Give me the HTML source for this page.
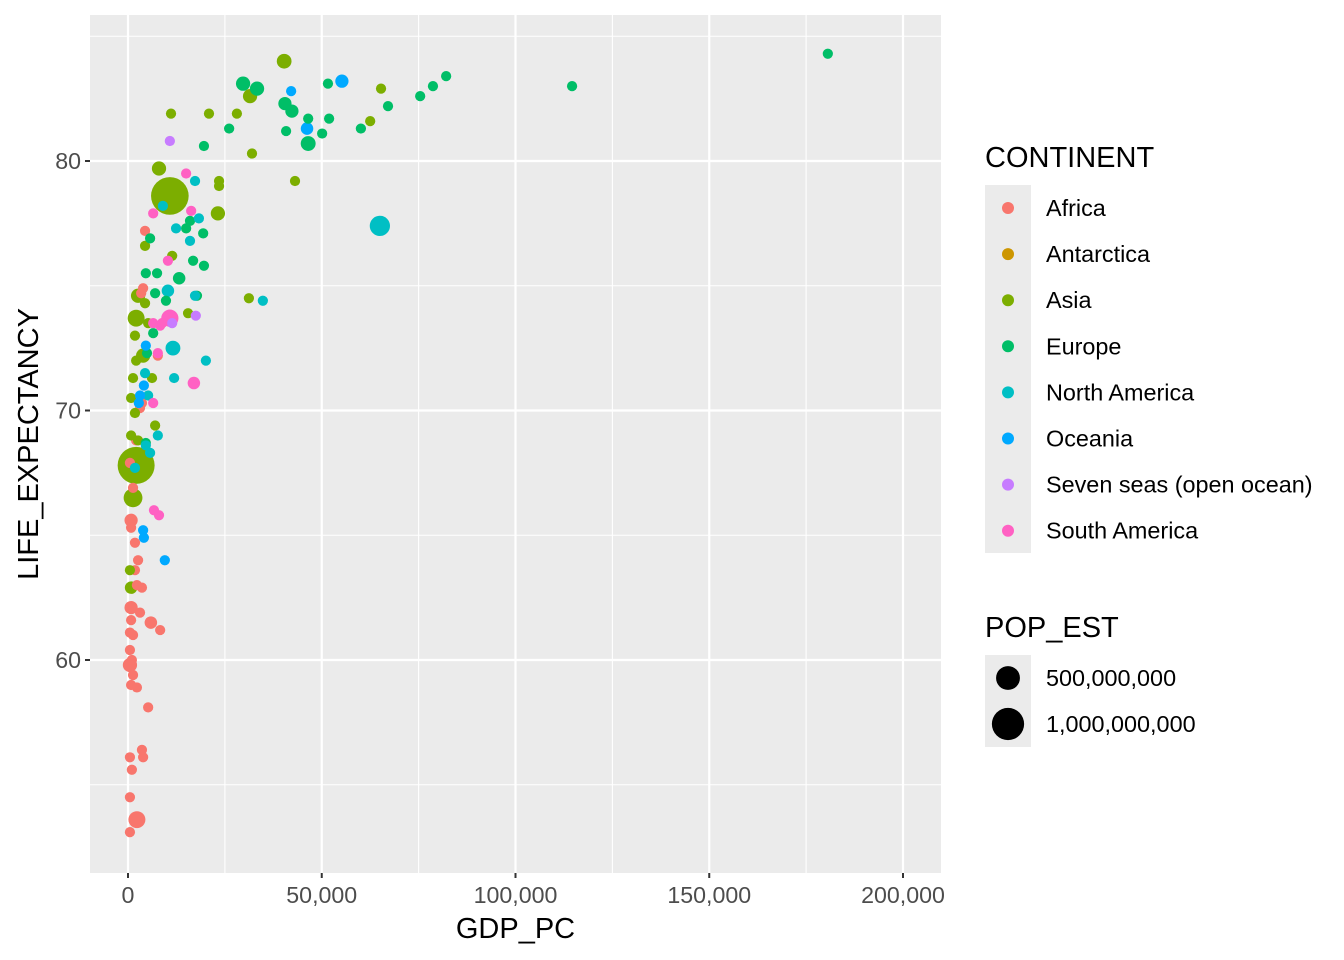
<!DOCTYPE html>
<html><head><meta charset="utf-8"><style>
body{margin:0;background:#fff;}
svg{display:block;font-family:"Liberation Sans",sans-serif;}
</style></head><body>
<svg id="chart" width="1344" height="960" xmlns="http://www.w3.org/2000/svg"></svg>
<script>
// data: gdp per capita (thousands), life expectancy, population (millions), continent index
const continents=["Africa","Antarctica","Asia","Europe","North America","Oceania","Seven seas (open ocean)","South America"];
const colors=["#F8766D","#CD9600","#7CAE00","#00BE67","#00BFC4","#00A9FF","#C77CFF","#FF61C3"];
const gdp=[0.5,2.3,0.5,1.0,0.5,3.9,3.6,5.2,2.3,0.8,1.3,0.5,1.0,0.5,1.3,0.5,8.3,5.9,0.8,3.1,0.8,3.6,2.3,1.8,2.6,1.8,0.8,0.8,1.3,0.5,2.1,3.6,3.1,7.7,3.9,3.4,4.4,
10.8,2.1,1.3,0.5,0.8,2.6,0.8,1.8,0.8,1.3,6.2,2.1,3.9,1.8,2.1,5.2,2.6,4.4,7.0,8.0,4.4,11.4,15.5,23.2,23.5,23.5,11.1,20.9,28.1,32.0,31.2,43.1,31.5,40.3,65.3,62.5,
29.7,33.3,26.1,19.6,40.5,42.3,40.8,46.5,46.5,50.1,51.9,51.6,60.1,67.1,75.4,78.7,82.1,114.6,180.6,16.0,15.0,19.4,16.8,19.6,13.2,17.8,9.8,7.5,4.6,5.7,6.5,4.9,7.0,4.6,
65.0,11.6,10.3,9.0,12.4,16.0,17.3,18.3,17.3,34.8,20.1,11.9,7.7,5.7,4.6,4.4,5.2,1.8,
55.2,46.2,42.1,9.5,3.9,4.1,4.1,3.1,2.8,4.6,
10.8,17.5,11.4,
10.8,15.0,6.5,16.3,10.3,17.0,7.7,6.5,8.0,6.7,6.5,8.3,8.8];
const life=[53.1,53.6,54.5,55.6,56.1,56.1,56.4,58.1,58.9,59.0,59.4,59.8,60.0,60.4,61.0,61.1,61.2,61.5,61.6,61.9,62.1,62.9,63.0,63.6,64.0,64.7,65.3,65.6,66.9,67.9,68.8,70.3,70.1,72.2,74.9,74.7,77.2,
78.6,67.8,66.5,63.6,62.9,68.8,69.0,69.9,70.5,71.3,71.3,72.0,72.2,73.0,73.7,73.5,74.6,74.3,69.4,79.7,76.6,76.2,73.9,77.9,79.2,79.0,81.9,81.9,81.9,80.3,74.5,79.2,82.6,84.0,82.9,81.6,
83.1,82.9,81.3,80.6,82.3,82.0,81.2,81.7,80.7,81.1,81.7,83.1,81.3,82.2,82.6,83.0,83.4,83.0,84.3,77.6,77.3,77.1,76.0,75.8,75.3,74.6,74.4,75.5,75.5,76.9,73.1,72.3,74.7,68.7,
77.4,72.5,74.8,78.2,77.3,76.8,79.2,77.7,74.6,74.4,72.0,71.3,69.0,68.3,68.6,71.5,70.6,67.7,
83.2,81.3,82.8,64.0,65.2,64.9,71.0,70.6,70.3,72.6,
80.8,73.8,73.5,
73.7,79.5,77.9,78.0,76.0,71.1,72.3,70.3,65.8,66.0,73.5,73.4,73.5];
const pop=[5,200,5,5,5,5,5,5,5,5,5,110,5,5,5,5,5,60,5,5,80,5,5,5,5,5,5,80,5,5,5,5,5,5,5,5,5,
1400,1350,270,5,60,5,5,5,5,5,5,5,110,5,200,5,110,5,5,110,5,5,5,110,5,5,5,5,5,5,5,5,110,125,5,5,
110,110,5,5,80,80,5,5,130,5,5,5,5,5,5,5,5,5,5,5,5,5,5,5,60,5,5,5,5,5,5,5,5,5,
330,128,60,5,5,5,5,5,5,5,5,5,5,5,5,5,5,5,
80,60,5,5,5,5,5,5,5,5,
5,5,5,
210,5,5,5,5,60,5,5,5,5,5,5,5];
const cont=[0,0,0,0,0,0,0,0,0,0,0,0,0,0,0,0,0,0,0,0,0,0,0,0,0,0,0,0,0,0,0,0,0,0,0,0,0,
2,2,2,2,2,2,2,2,2,2,2,2,2,2,2,2,2,2,2,2,2,2,2,2,2,2,2,2,2,2,2,2,2,2,2,2,
3,3,3,3,3,3,3,3,3,3,3,3,3,3,3,3,3,3,3,3,3,3,3,3,3,3,3,3,3,3,3,3,3,3,
4,4,4,4,4,4,4,4,4,4,4,4,4,4,4,4,4,4,
5,5,5,5,5,5,5,5,5,5,
6,6,6,
7,7,7,7,7,7,7,7,7,7,7,7,7];
const xTicks=[0,50000,100000,150000,200000];
const xTickLabels=["0","50,000","100,000","150,000","200,000"];
const yTicks=[60,70,80];
const yTickLabels=["60","70","80"];

const NS="http://www.w3.org/2000/svg";
const svg=document.getElementById("chart");
const P={l:90,r:941,t:15,b:873};
const xs=v=>128+v*(387.5/100000);
const ys=v=>161-(v-80)*24.95;
const rs=p=>Math.sqrt(25+235*p/1000);
function mk(tag,attrs,parent){const e=document.createElementNS(NS,tag);for(const k in attrs)e.setAttribute(k,attrs[k]);(parent||svg).appendChild(e);return e;}

const panel=mk("rect",{x:P.l,y:P.t,width:P.r-P.l,height:P.b-P.t,fill:"#EBEBEB"});


[25000,75000,125000,175000].forEach(v=>{mk("line",{x1:xs(v),x2:xs(v),y1:P.t,y2:P.b,stroke:"#fff","stroke-width":1.1});});
[55,65,75,85].forEach(v=>{mk("line",{x1:P.l,x2:P.r,y1:ys(v),y2:ys(v),stroke:"#fff","stroke-width":1.1});});
xTicks.forEach((v,i)=>{
  mk("line",{x1:xs(v),x2:xs(v),y1:P.t,y2:P.b,stroke:"#fff","stroke-width":2.2});
  mk("line",{x1:xs(v),x2:xs(v),y1:P.b,y2:P.b+5,stroke:"#333","stroke-width":2});
  const t=mk("text",{x:xs(v),y:P.b+30,"text-anchor":"middle","font-size":23.2,fill:"#4D4D4D"});
  t.textContent=xTickLabels[i];
  
  
});
yTicks.forEach((v,i)=>{
  mk("line",{x1:P.l,x2:P.r,y1:ys(v),y2:ys(v),stroke:"#fff","stroke-width":2.2});
  mk("line",{x1:P.l-5,x2:P.l,y1:ys(v),y2:ys(v),stroke:"#333","stroke-width":2});
  const t=mk("text",{x:P.l-9,y:ys(v)+8,"text-anchor":"end","font-size":23.2,fill:"#4D4D4D"});
  t.textContent=yTickLabels[i];
  
  
});
const idx=gdp.map((_,i)=>i).sort((a,b)=>pop[b]-pop[a]);
idx.forEach(i=>{
  const c=mk("circle",{cx:xs(gdp[i]*1000),cy:ys(life[i]),r:rs(pop[i]),fill:colors[cont[i]]});
  
  
});
let t=mk("text",{x:(P.l+P.r)/2,y:938,"text-anchor":"middle","font-size":29,fill:"#000"});
t.textContent="GDP_PC";


t=mk("text",{x:38,y:(P.t+P.b)/2,"text-anchor":"middle","font-size":29,fill:"#000",transform:`rotate(-90 38 ${(P.t+P.b)/2})`});
t.textContent="LIFE_EXPECTANCY";


t=mk("text",{x:985,y:167,"font-size":29,fill:"#000"});
t.textContent="CONTINENT";


mk("rect",{x:985,y:185,width:46,height:368,fill:"#EBEBEB"});
continents.forEach((n,i)=>{
  const y=208+i*46.1;
  const g=mk("g",{});
  
  
  mk("circle",{cx:1008,cy:y,r:6,fill:colors[i]},g);
  const tt=mk("text",{x:1046,y:y+8,"font-size":23.4,fill:"#000"},g);
  tt.textContent=n;
});
t=mk("text",{x:985,y:637,"font-size":29,fill:"#000"});
t.textContent="POP_EST";


mk("rect",{x:985,y:655,width:46,height:92,fill:"#EBEBEB"});
[[500,"500,000,000"],[1000,"1,000,000,000"]].forEach((d,i)=>{
  const y=678+i*46;
  const g=mk("g",{});
  
  
  mk("circle",{cx:1008,cy:y,r:rs(d[0]),fill:"#000"},g);
  const tt=mk("text",{x:1046,y:y+8,"font-size":23.4,fill:"#000"},g);
  tt.textContent=d[1];
});
</script>
</body></html>
